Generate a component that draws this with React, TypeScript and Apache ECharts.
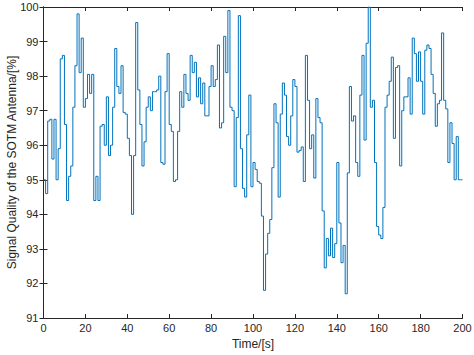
import React, { useEffect, useRef } from "react";
import * as echarts from "echarts";

const quality: number[] = [
  95.0, 94.6, 96.7, 96.75, 95.6, 96.75, 95.0, 95.9, 98.5, 98.6,
  96.6, 94.4, 95.1, 95.4, 97.1, 98.3, 99.8, 98.1, 99.1, 97.1,
  97.35, 98.05, 97.5, 98.05, 94.4, 95.1, 94.4, 96.55, 96.6, 96.0,
  97.4, 95.7, 96.0, 97.1, 98.8, 97.7, 97.5, 98.3, 96.95, 96.9,
  96.2, 95.7, 94.0, 95.7, 99.55, 97.6, 96.6, 95.4, 96.1, 97.1,
  97.4, 97.0, 97.55, 97.55, 97.6, 98.0, 95.5, 95.45, 97.55, 98.65,
  96.6, 96.4, 94.95, 95.0, 96.4, 97.55, 97.1, 98.05, 97.5, 97.3,
  98.6, 98.1, 98.4, 97.4, 97.95, 97.2, 97.8, 96.85, 96.85, 97.7,
  98.3, 97.7, 97.9, 98.9, 96.5, 96.65, 99.15, 98.1, 99.9, 97.1,
  97.0, 94.8, 96.8, 99.75, 95.9, 94.75, 94.5, 96.3, 97.45, 94.8,
  95.5, 95.3, 94.95, 94.9, 93.95, 91.8, 92.85, 93.45, 93.85, 95.35,
  97.2, 96.65, 94.5, 96.9, 97.8, 97.45, 96.25, 96.0, 96.85, 97.9,
  97.7, 95.8, 95.85, 95.95, 94.95, 98.6, 97.3, 95.9, 96.3, 95.05,
  97.35, 96.8, 96.65, 94.1, 92.45, 93.3, 92.8, 93.6, 92.75, 93.15,
  95.5, 93.75, 92.6, 93.1, 91.7, 95.2, 97.7, 96.7, 96.85, 95.5,
  95.1, 97.45, 98.6, 96.15, 98.95, 100.0, 97.1, 97.3, 95.5, 93.65,
  93.4, 93.3, 94.2, 97.1, 97.45, 97.85, 98.55, 96.2, 98.25, 98.3,
  95.4, 97.0, 97.4, 97.4, 97.95, 96.9, 99.1, 98.65, 97.85, 98.7,
  97.85, 96.9, 98.75, 98.9, 98.8, 98.05, 97.5, 96.55, 97.2, 97.3,
  99.25, 97.3, 97.05, 95.5, 96.65, 96.05, 95.0, 96.25, 95.0, 95.0,
];

const xTicks = [0, 20, 40, 60, 80, 100, 120, 140, 160, 180, 200];
const yTicks = [91, 92, 93, 94, 95, 96, 97, 98, 99, 100];

export default function App() {
  const ref = useRef<HTMLDivElement>(null);
  useEffect(() => {
    if (!ref.current) return;
    const chart = echarts.init(ref.current, undefined, { renderer: "svg" });
    const data: [number, number][] = quality.map((v, i) => [i, v]);
    data.push([quality.length, quality[quality.length - 1]]);
    const axisColor = "#262626";
    const font = "'Liberation Sans', Arial, sans-serif";
    const lineStyle = { color: axisColor, width: 1 };
    chart.setOption({
      animation: false,
      backgroundColor: "#ffffff",
      grid: {
        left: 43.5,
        right: 11.5,
        top: 7,
        bottom: 37,
        containLabel: false,
        outerBoundsMode: "none",
      },
      xAxis: [
        {
          type: "value",
          min: xTicks[0],
          max: xTicks[xTicks.length - 1],
          interval: 20,
          name: "Time/[s]",
          nameLocation: "middle",
          nameGap: 20,
          nameTextStyle: { color: axisColor, fontFamily: font, fontSize: 12 },
          axisLine: { show: true, lineStyle },
          axisTick: { show: true, inside: true, length: 4, lineStyle },
          axisLabel: { color: axisColor, fontFamily: font, fontSize: 11, margin: 4 },
          splitLine: { show: false },
        },
        {
          type: "value",
          position: "top",
          min: xTicks[0],
          max: xTicks[xTicks.length - 1],
          interval: 20,
          axisLine: { show: true, lineStyle },
          axisTick: { show: true, inside: true, length: 4, lineStyle },
          axisLabel: { show: false },
          splitLine: { show: false },
        },
      ],
      yAxis: [
        {
          type: "value",
          min: yTicks[0],
          max: yTicks[yTicks.length - 1],
          interval: 1,
          name: "Signal Quality of the SOTM Antenna/[%]",
          nameLocation: "middle",
          nameGap: 26,
          nameMoveOverlap: false,
          nameTextStyle: { color: axisColor, fontFamily: font, fontSize: 12 },
          axisLine: { show: true, lineStyle },
          axisTick: { show: true, inside: true, length: 4, lineStyle },
          axisLabel: { color: axisColor, fontFamily: font, fontSize: 11, margin: 5 },
          splitLine: { show: false },
        },
        {
          type: "value",
          position: "right",
          min: yTicks[0],
          max: yTicks[yTicks.length - 1],
          interval: 1,
          axisLine: { show: true, lineStyle },
          axisTick: { show: true, inside: true, length: 4, lineStyle },
          axisLabel: { show: false },
          splitLine: { show: false },
        },
      ],
      series: [
        {
          type: "line",
          step: "end",
          data,
          showSymbol: false,
          symbol: "none",
          lineStyle: { color: "#0072BD", width: 1 },
          xAxisIndex: 0,
          yAxisIndex: 0,
        },
      ],
    });
    return () => chart.dispose();
  }, []);
  return <div ref={ref} style={{ width: 474, height: 355, position: "absolute", left: 0, top: 0 }} />;
}
